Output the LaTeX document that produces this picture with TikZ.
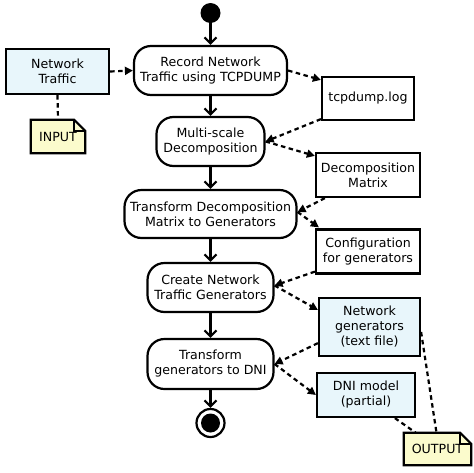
\documentclass[tikz,border=0pt]{standalone}
\usepackage{fontspec}
\setmainfont{DejaVu Sans}
\usetikzlibrary{arrows.meta,backgrounds}
\definecolor{lblue}{HTML}{E8F6FB}
\definecolor{lyel}{HTML}{FBFBCC}
\begin{document}
\begin{tikzpicture}[x=1pt,y=-1pt,
  font=\fontsize{12.6}{15}\selectfont,
  act/.style={draw,line width=2.2pt,rounded corners=17pt,align=center,inner sep=0pt},
  obj/.style={draw,line width=2.2pt,align=center,inner sep=0pt},
  notebox/.style={align=center,inner sep=0pt},
  flow/.style={line width=2.2pt,-{Straight Barb[length=6pt,width=12pt]}},
  dflow/.style={line width=2.2pt,dash pattern=on 4.5pt off 3.5pt,-{Triangle[length=8pt,width=8pt]}},
  dline/.style={line width=2.2pt,dash pattern=on 4.5pt off 3.5pt},
  note/.style={fill=lyel,draw=black,line width=2.2pt,line join=miter}
]
\useasboundingbox (0,0) rectangle (474,472);

% activity nodes
\node[circle,fill,minimum size=20pt,inner sep=0pt] (start) at (210.5,13) {};
\node[act,minimum width=153pt,minimum height=49pt] (rec) at (210.5,70.5) {Record Network\\Traffic using TCPDUMP};
\node[act,minimum width=108pt,minimum height=49pt] (ms) at (210.5,141.5) {Multi-scale\\Decomposition};
\node[act,minimum width=172pt,minimum height=48pt] (tr) at (210.5,214) {Transform Decomposition\\Matrix to Generators};
\node[act,minimum width=126pt,minimum height=49pt] (cr) at (210.5,287.5) {Create Network\\Traffic Generators};
\node[act,minimum width=126pt,minimum height=50pt] (td) at (210.5,364) {Transform\\generators to DNI};
\node[circle,draw,line width=2.2pt,minimum size=28pt,inner sep=0pt] (end) at (210.5,423) {};
\node[circle,fill,minimum size=19pt,inner sep=0pt] (endin) at (end.center) {};

% object nodes
\node[obj,fill=lblue,minimum width=103pt,minimum height=45pt] (nt) at (57.5,71.5) {Network\\Traffic};
\node[obj,minimum width=92pt,minimum height=43pt] (tcp) at (368,98.5) {tcpdump.log};
\node[obj,minimum width=104pt,minimum height=44pt] (dm) at (368,175) {Decomposition\\Matrix};
\node[obj,minimum width=104pt,minimum height=44pt] (cfg) at (368,251.5) {Configuration\\for generators};
\node[obj,fill=lblue,minimum width=101pt,minimum height=58pt] (ng) at (369.5,327) {Network\\generators\\(text file)};
\node[obj,fill=lblue,minimum width=98pt,minimum height=44pt] (dni) at (366,395) {DNI model\\(partial)};

% notes
\node[notebox,minimum width=54pt,minimum height=33pt] (inp) at (58,136.5) {\raisebox{-2pt}{INPUT}};
\node[notebox,minimum width=67pt,minimum height=32pt] (outp) at (437.5,449) {\raisebox{-2pt}{OUTPUT}};
\begin{scope}[on background layer]
\fill[white] (0,0) rectangle (474,472);
\foreach \n in {inp,outp}{
  \draw[note] (\n.north west) -- ([xshift=-11pt]\n.north east) -- ([yshift=-11pt]\n.north east)
    -- (\n.south east) -- (\n.south west) -- cycle;
  \draw[line width=2.2pt,line join=miter] ([xshift=-11pt]\n.north east) -- ([xshift=-11pt,yshift=-11pt]\n.north east) -- ([yshift=-11pt]\n.north east);
}
\end{scope}

% control flow
\draw[flow] (start) -- (rec);
\draw[flow] (rec) -- (ms);
\draw[flow] (ms) -- (tr);
\draw[flow] (tr) -- (cr);
\draw[flow] (cr) -- (td);
\draw[flow] (td) -- (end);

% object flow
\draw[dflow] (nt.east) -- (rec.west);
\draw[dflow] (rec.east) -- ([yshift=-4pt]tcp.north west);
\draw[dflow] ([yshift=2pt]tcp.south west) -- (ms.east);
\draw[dflow] (ms.east) -- ([yshift=-4pt]dm.north west);
\draw[dflow] ([xshift=10pt]dm.south west) -- ([yshift=2pt]tr.east);
\draw[dflow] ([yshift=2pt]tr.east) -- ([xshift=4pt,yshift=1pt]cfg.north west);
\draw[dflow] ([yshift=3pt]cfg.south west) -- ([yshift=2pt]cr.east);
\draw[dflow] ([yshift=2pt]cr.east) -- ([yshift=-13pt]ng.north west);
\draw[dflow] ([yshift=14pt]ng.south west) -- (td.east);
\draw[dflow] (td.east) -- (dni.west);

% note links
\draw[dline] (nt.south) -- (inp.north);
\draw[dline] ([xshift=79pt]dni.south west) -- ([xshift=12pt]outp.north west);
\draw[dline] ([yshift=-5pt]ng.east) -- ([xshift=-1pt]outp.north);
\end{tikzpicture}
\end{document}
